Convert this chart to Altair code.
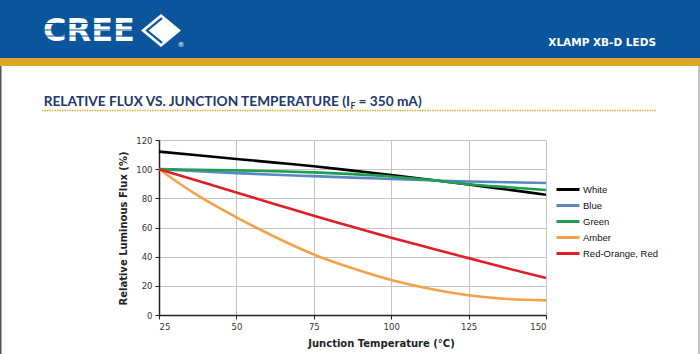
import altair as alt
import pandas as pd

# ---------------- data ----------------
temps = [25, 37.5, 50, 62.5, 75, 87.5, 100, 112.5, 125, 137.5, 150]
white = [112, 109.5, 107, 104.5, 102, 99, 96, 92.8, 89.5, 86, 82.5]
blue = [100, 98.6, 97.3, 96.2, 95.2, 94.2, 93.3, 92.4, 91.5, 91, 90.5]
green = [100, 99.6, 99.2, 98.6, 97.8, 96.6, 95, 92.6, 89.7, 87.6, 85.7]
amber = [100, 82, 67, 53.5, 41.5, 32, 24, 18, 13.5, 11, 10]
red = [100, 92, 84, 76, 68, 60.5, 53, 46, 39, 32, 25.3]

series_names = ["White", "Blue", "Green", "Amber", "Red-Orange, Red"]
series_values = [white, blue, green, amber, red]
series_colors = ["#000000", "#5a86c4", "#1f9e52", "#f4a24a", "#e11d25"]

x_ticks = [25, 50, 75, 100, 125, 150]
y_ticks = [0, 20, 40, 60, 80, 100, 120]

rows = []
for name, vals in zip(series_names, series_values):
    for t, v in zip(temps, vals):
        rows.append({"Tj": t, "Flux": v, "Series": name})
df = pd.DataFrame(rows)

# ---------------- layout ----------------
PL, PT = 159, 140          # plot origin in page pixels
W, H = 387, 175
PR = 700 - PL - W
PB = 354 - PT - H

BLUE = "#0a559b"
GOLD = "#dfa526"
NAVY = "#22386b"

one = pd.DataFrame({"k": [0]})


def ax(v):
    return alt.value(v - PL)


def ay(v):
    return alt.value(v - PT)


lines = alt.Chart(df).mark_line(strokeWidth=2.6, interpolate="monotone").encode(
    x=alt.X("Tj:Q",
            scale=alt.Scale(domain=[25, 150], nice=False, zero=False),
            axis=alt.Axis(values=x_ticks, title="Junction Temperature (°C)",
                          titleX=222, titleY=28, titleBaseline="middle",
                          titleAlign="center")),
    y=alt.Y("Flux:Q",
            scale=alt.Scale(domain=[0, 120], nice=False),
            axis=alt.Axis(values=y_ticks, title="Relative Luminous Flux (%)",
                          titleX=-36, titleY=88, titleBaseline="middle",
                          titleAlign="center")),
    color=alt.Color("Series:N",
                    scale=alt.Scale(domain=series_names, range=series_colors),
                    legend=alt.Legend(title=None, orient="none",
                                      legendX=396, legendY=42,
                                      symbolType="stroke", symbolSize=529,
                                      symbolStrokeWidth=3, clipHeight=15.2,
                                      rowPadding=0, labelOffset=2, padding=0,
                                      labelFont="Liberation Sans", labelFontSize=9.5,
                                      labelColor="#111111")),
    order=alt.Order("Tj:Q"),
)

# header bands
blue_band = alt.Chart(one).mark_rect(color=BLUE).encode(
    x=ax(0), x2=ax(700), y=ay(0), y2=ay(58))
gold_band = alt.Chart(one).mark_rect(color=GOLD).encode(
    x=ax(0), x2=ax(700), y=ay(58), y2=ay(66))

# side borders
left_border = alt.Chart(one).mark_rule(color="#555555", strokeWidth=1.5).encode(
    x=ax(0.75), y=ay(66), y2=ay(354))
right_border = alt.Chart(one).mark_rule(color="#888888", strokeWidth=1).encode(
    x=ax(699), y=ay(66), y2=ay(354))

# logo
logo_text = alt.Chart(one).mark_text(
    text="CREE", font="DejaVu Sans", fontWeight="bold", fontSize=32,
    color="white", align="left", baseline="alphabetic").encode(x=ax(43), y=ay(40.5))
stripes = alt.Chart(pd.DataFrame({"yy": [23.5 - PT, 30 - PT, 36 - PT]})).mark_rule(
    color=BLUE, strokeWidth=1.1).encode(x=ax(43), x2=ax(141), y=alt.Y("yy:Q", scale=None))
diamond = alt.Chart(one).mark_point(
    shape="M0,-0.82 L1,0 L0,0.82 L-1,0 Z", filled=True, fill="white",
    size=1600, opacity=1, strokeWidth=0).encode(x=ax(161), y=ay(30.5))
chevron = alt.Chart(one).mark_point(
    shape="M0.05,-0.62 L-0.7,0 L0.05,0.62", filled=False, stroke=BLUE,
    size=1600, opacity=1, strokeWidth=2.2).encode(x=ax(161), y=ay(30.5))
reg = alt.Chart(one).mark_text(text="®", fontSize=7, color="white",
                               font="DejaVu Sans").encode(x=ax(181), y=ay(45))

xlamp = alt.Chart(one).mark_text(
    text="XLAMP XB-D LEDS", font="DejaVu Sans", fontWeight="bold", fontSize=10.5,
    color="white", align="right", baseline="middle").encode(x=ax(656), y=ay(43))

# chart title
title1 = alt.Chart(one).mark_text(
    text="RELATIVE FLUX VS. JUNCTION TEMPERATURE (I", font="Lato", fontWeight="bold",
    fontSize=13.7, color=NAVY, align="right", baseline="alphabetic").encode(
    x=ax(350), y=ay(106))
title_sub = alt.Chart(one).mark_text(
    text="F", font="Lato", fontWeight="bold", fontSize=8.5, color=NAVY,
    align="left", baseline="alphabetic").encode(x=ax(350.5), y=ay(109))
title2 = alt.Chart(one).mark_text(
    text="= 350 mA)", font="Lato", fontWeight="bold", fontSize=13.7, color=NAVY,
    align="left", baseline="alphabetic").encode(x=ax(358.5), y=ay(106))
underline = alt.Chart(one).mark_rule(color="#e2b032", strokeWidth=1.3,
                                     strokeDash=[1.5, 1]).encode(
    x=ax(42), x2=ax(657), y=ay(110.5))

chart = alt.layer(
    blue_band, gold_band, left_border, right_border,
    logo_text, stripes, diamond, chevron, reg, xlamp,
    title1, title_sub, title2, underline,
    lines,
).properties(
    width=W, height=H,
    autosize=alt.AutoSizeParams(type="none"),
    padding={"left": PL, "top": PT, "right": PR, "bottom": PB},
    background="white",
).configure_view(
    stroke=None
).configure_axis(
    gridColor="#c4c4c4", gridWidth=1,
    domainColor="#222222", domainWidth=1.5,
    tickColor="#222222", tickSize=4, tickWidth=1,
    labelFont="DejaVu Sans", labelFontSize=8.5, labelColor="#333333",
    labelPadding=3,
    titleFont="DejaVu Sans", titleFontWeight="bold", titleFontSize=10,
    titleColor="#222222",
)

chart.save("out.html", embed_options={"renderer": "svg", "actions": False})
